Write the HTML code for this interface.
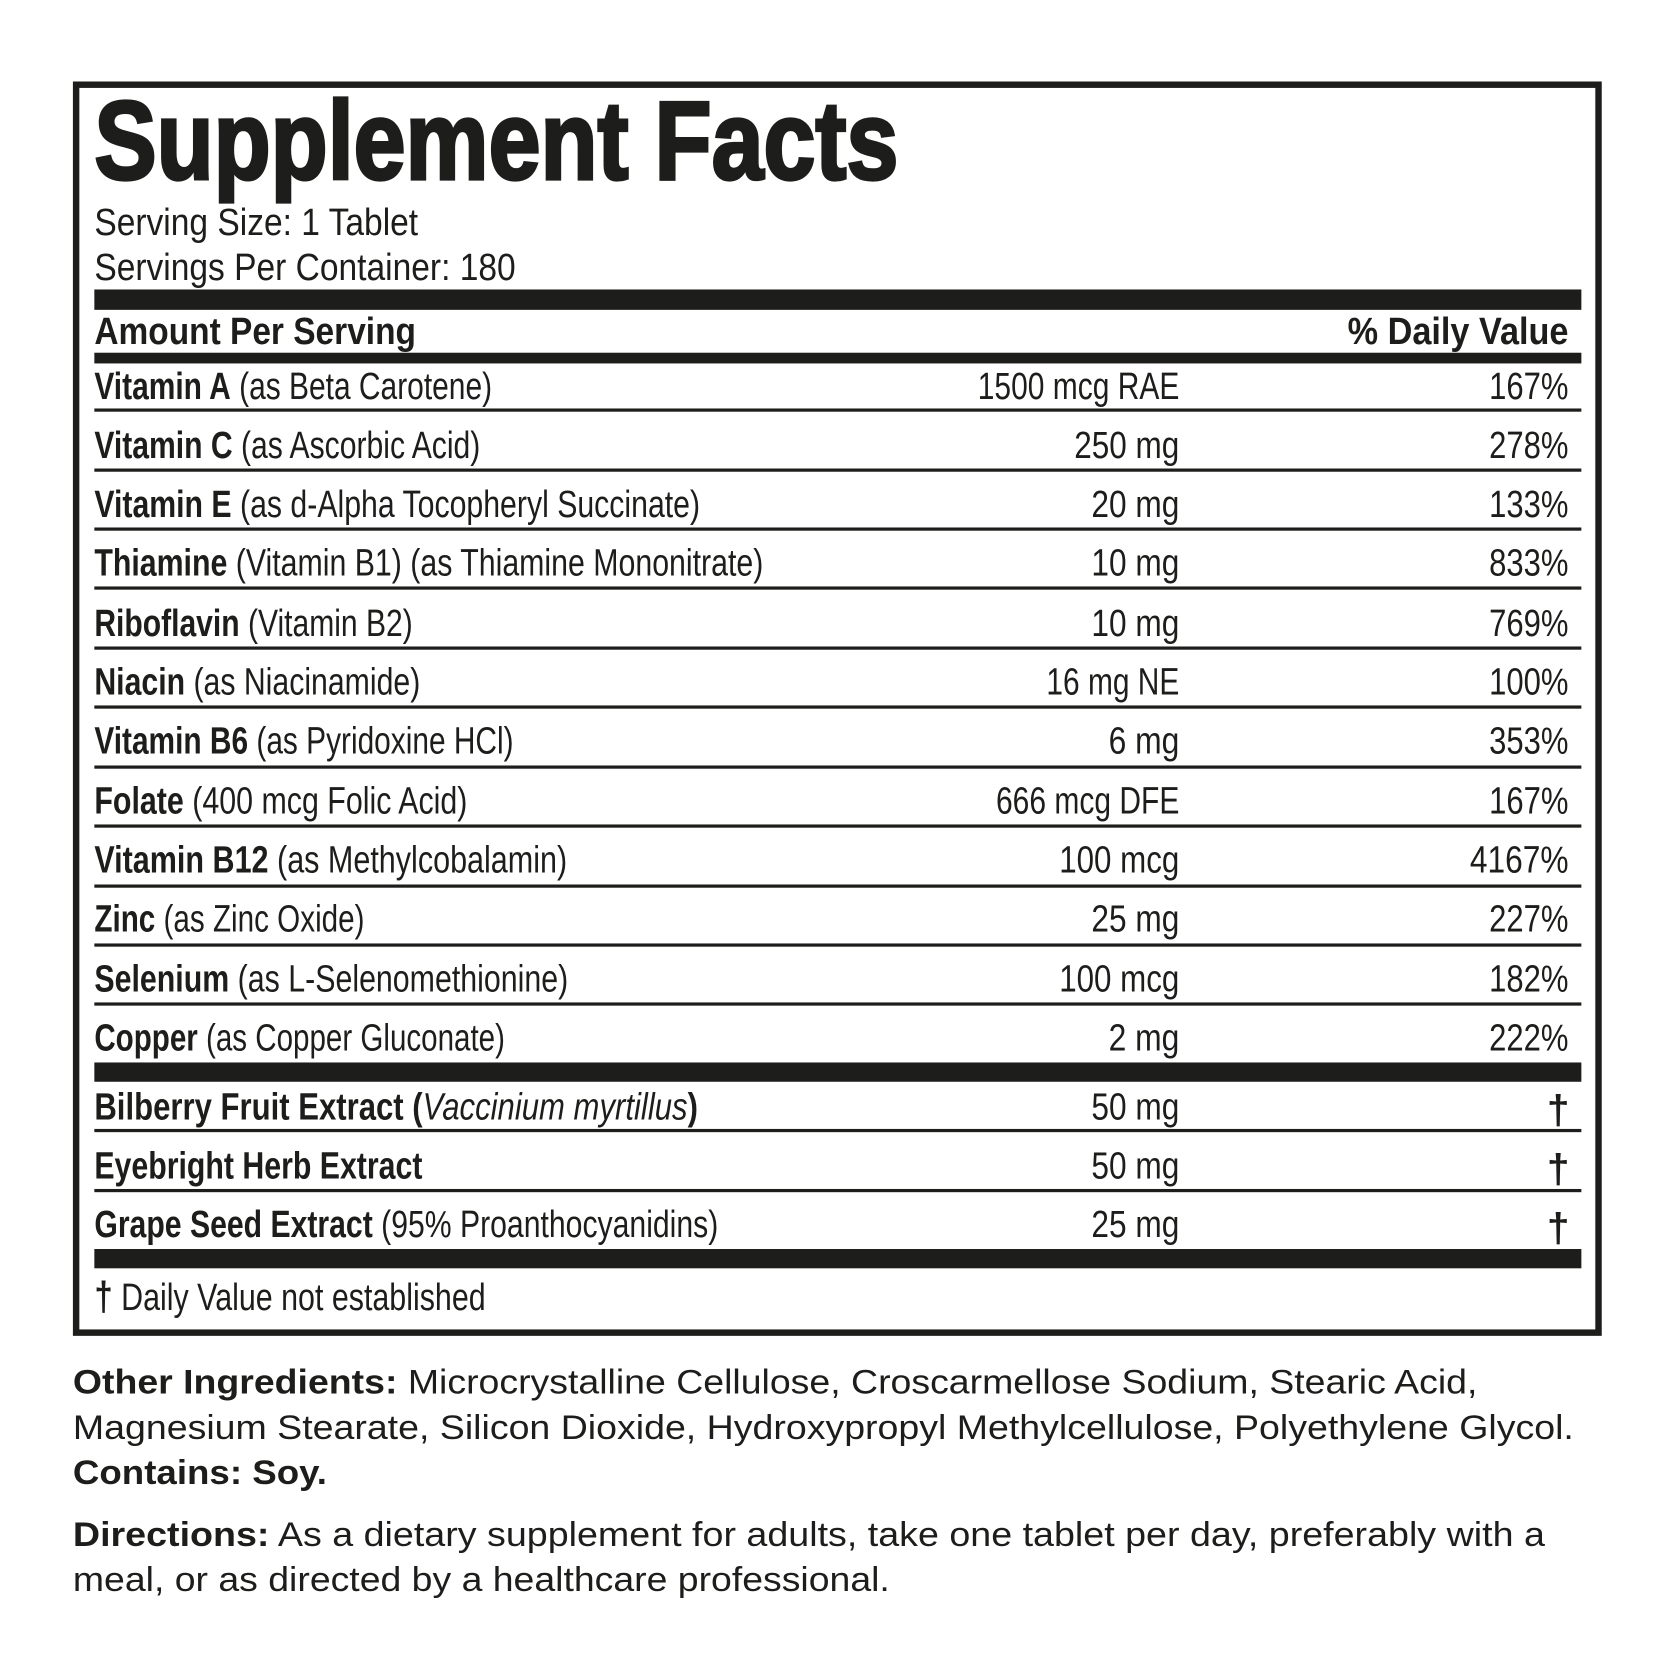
<!DOCTYPE html>
<html><head><meta charset="utf-8"><style>
html,body{margin:0;padding:0;background:#fff;}
svg{display:block;}
text{font-family:"Liberation Sans",sans-serif;fill:#1d1d1b;}
.r{font-size:35px;}
.b{font-weight:bold;}
</style></head><body>
<svg width="1680" height="1680" viewBox="0 0 1567 1567" xmlns="http://www.w3.org/2000/svg">
<rect x="71" y="79" width="1420" height="1164" fill="none" stroke="#1d1d1b" stroke-width="6"/>
<text x="88" y="167" class="b" font-size="104" stroke="#1d1d1b" stroke-width="3" textLength="750" lengthAdjust="spacingAndGlyphs">Supplement Facts</text>
<text x="88" y="219" class="r" textLength="302" lengthAdjust="spacingAndGlyphs">Serving Size: 1 Tablet</text>
<text x="88" y="261" class="r" textLength="393" lengthAdjust="spacingAndGlyphs">Servings Per Container: 180</text>
<rect x="88" y="270" width="1387" height="19" fill="#1d1d1b"/>
<text x="88" y="321" class="r b" textLength="300" lengthAdjust="spacingAndGlyphs">Amount Per Serving</text>
<text x="1463" y="321" class="r b" text-anchor="end" textLength="206" lengthAdjust="spacingAndGlyphs">% Daily Value</text>
<rect x="88" y="329" width="1387" height="10" fill="#1d1d1b"/>
<g class="r">
<text x="88" y="372" textLength="371" lengthAdjust="spacingAndGlyphs"><tspan class="b">Vitamin A</tspan> (as Beta Carotene)</text>
<text x="88" y="427" textLength="360" lengthAdjust="spacingAndGlyphs"><tspan class="b">Vitamin C</tspan> (as Ascorbic Acid)</text>
<text x="88" y="482" textLength="565" lengthAdjust="spacingAndGlyphs"><tspan class="b">Vitamin E</tspan> (as d-Alpha Tocopheryl Succinate)</text>
<text x="88" y="537" textLength="624" lengthAdjust="spacingAndGlyphs"><tspan class="b">Thiamine</tspan> (Vitamin B1) (as Thiamine Mononitrate)</text>
<text x="88" y="593" textLength="297" lengthAdjust="spacingAndGlyphs"><tspan class="b">Riboflavin</tspan> (Vitamin B2)</text>
<text x="88" y="648" textLength="304" lengthAdjust="spacingAndGlyphs"><tspan class="b">Niacin</tspan> (as Niacinamide)</text>
<text x="88" y="703" textLength="391" lengthAdjust="spacingAndGlyphs"><tspan class="b">Vitamin B6</tspan> (as Pyridoxine HCl)</text>
<text x="88" y="759" textLength="348" lengthAdjust="spacingAndGlyphs"><tspan class="b">Folate</tspan> (400 mcg Folic Acid)</text>
<text x="88" y="814" textLength="441" lengthAdjust="spacingAndGlyphs"><tspan class="b">Vitamin B12</tspan> (as Methylcobalamin)</text>
<text x="88" y="869" textLength="252" lengthAdjust="spacingAndGlyphs"><tspan class="b">Zinc</tspan> (as Zinc Oxide)</text>
<text x="88" y="925" textLength="442" lengthAdjust="spacingAndGlyphs"><tspan class="b">Selenium</tspan> (as L-Selenomethionine)</text>
<text x="88" y="980" textLength="383" lengthAdjust="spacingAndGlyphs"><tspan class="b">Copper</tspan> (as Copper Gluconate)</text>
<text x="88" y="1044" textLength="563" lengthAdjust="spacingAndGlyphs"><tspan class="b">Bilberry Fruit Extract (</tspan><tspan font-style="italic">Vaccinium myrtillus</tspan><tspan class="b">)</tspan></text>
<text x="88" y="1099" class="b" textLength="306" lengthAdjust="spacingAndGlyphs">Eyebright Herb Extract</text>
<text x="88" y="1154" textLength="582" lengthAdjust="spacingAndGlyphs"><tspan class="b">Grape Seed Extract</tspan> (95% Proanthocyanidins)</text>
</g>
<g class="r" text-anchor="end">
<text x="1100" y="372" textLength="188" lengthAdjust="spacingAndGlyphs">1500 mcg RAE</text>
<text x="1100" y="427" textLength="98" lengthAdjust="spacingAndGlyphs">250 mg</text>
<text x="1100" y="482" textLength="82" lengthAdjust="spacingAndGlyphs">20 mg</text>
<text x="1100" y="537" textLength="82" lengthAdjust="spacingAndGlyphs">10 mg</text>
<text x="1100" y="593" textLength="82" lengthAdjust="spacingAndGlyphs">10 mg</text>
<text x="1100" y="648" textLength="124" lengthAdjust="spacingAndGlyphs">16 mg NE</text>
<text x="1100" y="703" textLength="66" lengthAdjust="spacingAndGlyphs">6 mg</text>
<text x="1100" y="759" textLength="171" lengthAdjust="spacingAndGlyphs">666 mcg DFE</text>
<text x="1100" y="814" textLength="112" lengthAdjust="spacingAndGlyphs">100 mcg</text>
<text x="1100" y="869" textLength="82" lengthAdjust="spacingAndGlyphs">25 mg</text>
<text x="1100" y="925" textLength="112" lengthAdjust="spacingAndGlyphs">100 mcg</text>
<text x="1100" y="980" textLength="66" lengthAdjust="spacingAndGlyphs">2 mg</text>
<text x="1100" y="1044" textLength="82" lengthAdjust="spacingAndGlyphs">50 mg</text>
<text x="1100" y="1099" textLength="82" lengthAdjust="spacingAndGlyphs">50 mg</text>
<text x="1100" y="1154" textLength="82" lengthAdjust="spacingAndGlyphs">25 mg</text>
<text x="1463" y="372" textLength="74" lengthAdjust="spacingAndGlyphs">167%</text>
<text x="1463" y="427" textLength="74" lengthAdjust="spacingAndGlyphs">278%</text>
<text x="1463" y="482" textLength="74" lengthAdjust="spacingAndGlyphs">133%</text>
<text x="1463" y="537" textLength="74" lengthAdjust="spacingAndGlyphs">833%</text>
<text x="1463" y="593" textLength="74" lengthAdjust="spacingAndGlyphs">769%</text>
<text x="1463" y="648" textLength="74" lengthAdjust="spacingAndGlyphs">100%</text>
<text x="1463" y="703" textLength="74" lengthAdjust="spacingAndGlyphs">353%</text>
<text x="1463" y="759" textLength="74" lengthAdjust="spacingAndGlyphs">167%</text>
<text x="1463" y="814" textLength="92" lengthAdjust="spacingAndGlyphs">4167%</text>
<text x="1463" y="869" textLength="74" lengthAdjust="spacingAndGlyphs">227%</text>
<text x="1463" y="925" textLength="74" lengthAdjust="spacingAndGlyphs">182%</text>
<text x="1463" y="980" textLength="74" lengthAdjust="spacingAndGlyphs">222%</text>
<text x="1464" y="1048" font-size="38" font-weight="bold">†</text>
<text x="1464" y="1103" font-size="38" font-weight="bold">†</text>
<text x="1464" y="1158" font-size="38" font-weight="bold">†</text>
</g>
<g fill="#1d1d1b">
<rect x="88" y="381" width="1387" height="3"/>
<rect x="88" y="437" width="1387" height="3"/>
<rect x="88" y="492" width="1387" height="3"/>
<rect x="88" y="547" width="1387" height="3"/>
<rect x="88" y="603" width="1387" height="3"/>
<rect x="88" y="658" width="1387" height="3"/>
<rect x="88" y="714" width="1387" height="3"/>
<rect x="88" y="769" width="1387" height="3"/>
<rect x="88" y="825" width="1387" height="3"/>
<rect x="88" y="880" width="1387" height="3"/>
<rect x="88" y="935" width="1387" height="3"/>
<rect x="88" y="991" width="1387" height="18"/>
<rect x="88" y="1053" width="1387" height="3"/>
<rect x="88" y="1109" width="1387" height="3"/>
<rect x="88" y="1165" width="1387" height="18"/>
</g>
<text x="88" y="1222" class="r" textLength="365" lengthAdjust="spacingAndGlyphs"><tspan font-size="38" font-weight="bold">†</tspan> Daily Value not established</text>
<g font-size="32">
<text x="68" y="1300" textLength="1310" lengthAdjust="spacingAndGlyphs"><tspan class="b">Other Ingredients:</tspan> Microcrystalline Cellulose, Croscarmellose Sodium, Stearic Acid,</text>
<text x="68" y="1342" textLength="1400" lengthAdjust="spacingAndGlyphs">Magnesium Stearate, Silicon Dioxide, Hydroxypropyl Methylcellulose, Polyethylene Glycol.</text>
<text x="68" y="1384" class="b" textLength="237" lengthAdjust="spacingAndGlyphs">Contains: Soy.</text>
<text x="68" y="1442" textLength="1373" lengthAdjust="spacingAndGlyphs"><tspan class="b">Directions:</tspan> As a dietary supplement for adults, take one tablet per day, preferably with a</text>
<text x="68" y="1484" textLength="762" lengthAdjust="spacingAndGlyphs">meal, or as directed by a healthcare professional.</text>
</g>
</svg>
</body></html>
